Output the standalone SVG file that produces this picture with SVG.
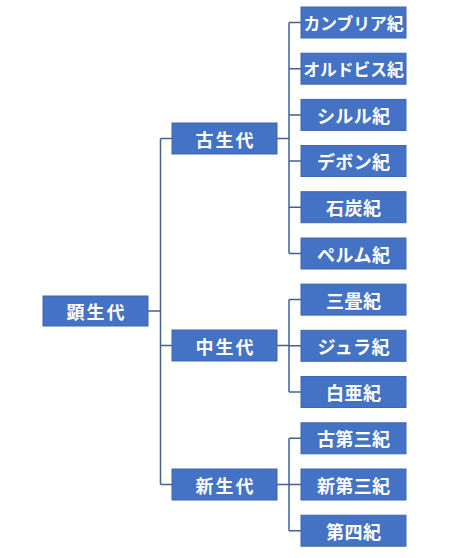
<svg xmlns="http://www.w3.org/2000/svg" width="474" height="558" viewBox="0 0 474 558">
<style>
.box{fill:#4472C4;stroke:#3F66AE;stroke-width:1}
.t{fill:#ffffff;font-family:"Noto Sans CJK JP","Noto Sans",sans-serif;font-weight:bold;font-size:18px;text-anchor:middle;dominant-baseline:central}
.m{letter-spacing:2px}
.r{letter-spacing:0.4px}
.l{font-size:16.8px}
.c{fill:none;stroke:#44618F;stroke-width:1.5}
</style>
<rect width="474" height="558" fill="#ffffff"/>
<g id="connectors">
<path class="c" d="M148,311 H160.5 M160.5,138.5 V484.5 M160.5,138.5 H172 M160.5,345.5 H172 M160.5,484.5 H172"/>
<path class="c" d="M277,138.5 H289 M289,22.5 V253.5 M289,22.5 H301 M289,68.7 H301 M289,114.9 H301 M289,161 H301 M289,207.2 H301 M289,253.5 H301"/>
<path class="c" d="M277,345.5 H289 M289,299.6 V392 M289,299.6 H301 M289,345.8 H301 M289,392 H301"/>
<path class="c" d="M277,484.5 H289 M289,438.3 V530.7 M289,438.3 H301 M289,484.5 H301 M289,530.7 H301"/>
</g>
<g id="n-root"><rect class="box" x="43" y="296" width="105" height="30"/><text class="t m" x="96.5" y="311">顕生代</text></g>
<g id="n-paleozoic"><rect class="box" x="172" y="123" width="105" height="31"/><text class="t m" x="225.5" y="138.5">古生代</text></g>
<g id="n-mesozoic"><rect class="box" x="172" y="330" width="105" height="31"/><text class="t m" x="225.5" y="345.5">中生代</text></g>
<g id="n-cenozoic"><rect class="box" x="172" y="469" width="105" height="31"/><text class="t m" x="225.5" y="484.5">新生代</text></g>
<g id="n-cambrian"><rect class="box" x="301" y="7" width="105" height="31"/><text class="t l" x="353.5" y="22.5">カンブリア紀</text></g>
<g id="n-ordovician"><rect class="box" x="301" y="53.2" width="105" height="31"/><text class="t l" x="353.5" y="68.7">オルドビス紀</text></g>
<g id="n-silurian"><rect class="box" x="301" y="99.4" width="105" height="31"/><text class="t r" x="353.7" y="114.9">シルル紀</text></g>
<g id="n-devonian"><rect class="box" x="301" y="145.5" width="105" height="31"/><text class="t r" x="353.7" y="161">デボン紀</text></g>
<g id="n-carboniferous"><rect class="box" x="301" y="191.7" width="105" height="31"/><text class="t r" x="353.7" y="207.2">石炭紀</text></g>
<g id="n-permian"><rect class="box" x="301" y="238" width="105" height="31"/><text class="t r" x="353.7" y="253.5">ペルム紀</text></g>
<g id="n-triassic"><rect class="box" x="301" y="284.1" width="105" height="31"/><text class="t r" x="353.7" y="299.6">三畳紀</text></g>
<g id="n-jurassic"><rect class="box" x="301" y="330.3" width="105" height="31"/><text class="t r" x="353.7" y="345.8">ジュラ紀</text></g>
<g id="n-cretaceous"><rect class="box" x="301" y="376.5" width="105" height="31"/><text class="t r" x="353.7" y="392">白亜紀</text></g>
<g id="n-paleogene"><rect class="box" x="301" y="422.8" width="105" height="31"/><text class="t r" x="353.7" y="438.3">古第三紀</text></g>
<g id="n-neogene"><rect class="box" x="301" y="469" width="105" height="31"/><text class="t r" x="353.7" y="484.5">新第三紀</text></g>
<g id="n-quaternary"><rect class="box" x="301" y="515.2" width="105" height="31"/><text class="t r" x="353.7" y="530.7">第四紀</text></g>
</svg>
